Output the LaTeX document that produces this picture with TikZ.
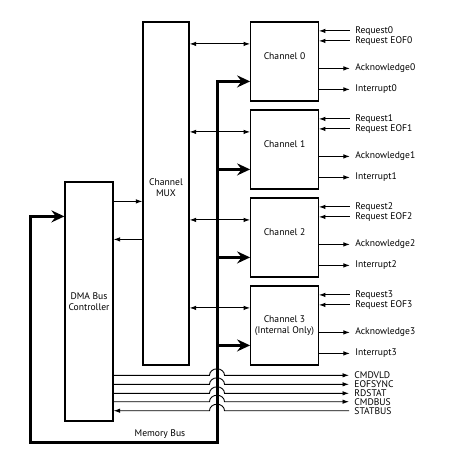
\documentclass[tikz,border=0pt]{standalone}
\usepackage{fontspec}
\setmainfont{PT Sans}
\usetikzlibrary{arrows.meta, calc, positioning}

\tikzstyle{boite} = [
    rectangle,
    draw = black,
    line width = 1.2pt,
    align = center,
    inner sep = 0pt,
]
\tikzstyle{canal} = [boite, minimum width = 67.6pt, minimum height = 79pt]
\tikzstyle{signal} = [anchor = west, inner xsep = 5pt, inner ysep = 0pt]
\tikzstyle{bus} = [line width = 3pt, >={Stealth[length = 13pt, width = 12pt, inset = 4.5pt]}]

\begin{document}
\begin{tikzpicture} [x = 1pt, y = -1pt, node distance = 88pt, line width = 0.9pt,
    >={Latex[length = 6.5pt, width = 4.5pt]}, font = \fontsize{9.6}{11.5}\selectfont]
    \useasboundingbox (0, 0) rectangle (474, 448);

    \node (MUX) [boite, minimum width = 46pt, minimum height = 343pt] at (166, 193.5) {Channel\\MUX\\\mbox{}};
    \node (DMA) [boite, minimum width = 48pt, minimum height = 239pt] at (89, 301.5) {DMA Bus\\Controller};

    \node (ch0) [canal] at (284.5, 61.5) {Channel 0\\\mbox{}};
    \node (ch1) [canal, below of = ch0] {Channel 1\\\mbox{}};
    \node (ch2) [canal, below of = ch1] {Channel 2\\\mbox{}};
    \node (ch3) [canal, below of = ch2] {Channel 3\\(Internal Only)};

    \coordinate (bus) at (217, 442);
    \coordinate (mem) at (30, 442);
    \coordinate (DMAin) at ($(DMA.north west) + (0, 35)$);
    \coordinate (DMAout) at ($(DMA.north east) + (0, 20)$);
    \coordinate (MUXout) at ($(DMA.north east) + (0, 58)$);

    \draw[->] (DMAout) -- (MUX.west |- DMAout);
    \draw[<-] (MUXout) -- (MUX.west |- MUXout);

    \foreach \n in {0, ..., 3} {
        \node (req\n) [signal] at ($(ch\n.north east) + (31, 9.5)$) {Request\n};
        \node (eof\n) [signal] at ($(ch\n.north east) + (31, 19.5)$) {Request EOF\n};
        \node (ack\n) [signal] at ($(ch\n.north east) + (31, 47)$) {Acknowledge\n};
        \node (int\n) [signal] at ($(ch\n.north east) + (31, 68)$) {Interrupt\n};
        \draw[<-] (ch\n.east |- req\n) -- (req\n);
        \draw[<-] (ch\n.east |- eof\n) -- (eof\n);
        \draw[->] (ch\n.east |- ack\n) -- (ack\n);
        \draw[->] (ch\n.east |- int\n) -- (int\n);

        \coordinate (mx\n) at ($(ch\n.north west) + (0, 22.5)$);
        \coordinate (in\n) at ($(ch\n.north west) + (0, 60)$);
        \draw[<->] (MUX.east |- mx\n) -- (mx\n);
    }

    % bus memoire
    \draw[bus, <->] (in0) -| (bus) -- (mem) |- (DMAin);
    \foreach \n in {1, 2, 3} {
        \draw[bus, ->] (bus |- in\n) -- (in\n);
    }
    \node (membus) at (160, 434) {Memory Bus};

    % signaux du controleur
    \foreach \nom/\yy in {CMDVLD/375.3, EOFSYNC/384.3, RDSTAT/393.3, CMDBUS/401.7} {
        \node (\nom) [signal] at (349, \yy) {\nom};
        \draw[->] (DMA.east |- \nom) -- ($(bus |- \nom) + (-7.5, 0)$)
            arc[start angle = 180, end angle = 0, x radius = 7.5pt, y radius = 6.5pt] -- (\nom);
    }
    \node (STATBUS) [signal] at (349, 410.7) {STATBUS};
    \draw[<-] (DMA.east |- STATBUS) -- ($(bus |- STATBUS) + (-7.5, 0)$)
        arc[start angle = 180, end angle = 0, x radius = 7.5pt, y radius = 6.5pt] -- (STATBUS);
\end{tikzpicture}
\end{document}
